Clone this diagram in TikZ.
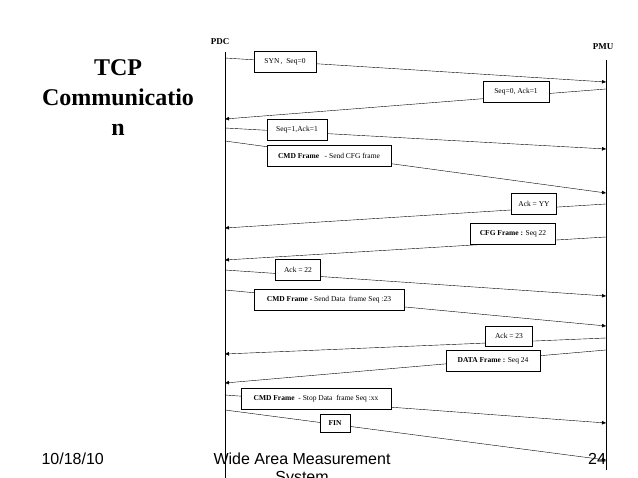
\documentclass[tikz,border=0pt]{standalone}
\usepackage{fontspec}
\setmainfont{Liberation Serif}
\newfontfamily\slidefont{Liberation Sans}
\usetikzlibrary{arrows.meta, positioning, calc}

\begin{document}
\begin{tikzpicture}[x=1pt, y=-1pt, >={Triangle[length=4pt, width=3.5pt]},
    msg/.style={draw, thin, fill=white, font=\fontsize{7.5}{8}\selectfont, inner sep=0pt},
    life/.style={thin},
    hdr/.style={font=\fontsize{9}{10}\selectfont\bfseries}]
    \useasboundingbox (0,0) rectangle (638,478);
    % lifelines
    \coordinate (pdcTop) at (225,52);
    \coordinate (pdcEnd) at (225,478);
    \coordinate (pmuTop) at (606,60);
    \coordinate (pmuEnd) at (606,470);
    \draw[life] (pdcTop) -- (pdcEnd);
    \draw[life] (pmuTop) -- (pmuEnd);
    \node[hdr] (pdc) at (220,42) {PDC};
    \node[hdr] (pmu) at (603,47) {PMU};
    % messages: from-y / to-y / direction / box x / box y / box width / box height / text
    \foreach \i/\ya/\yb/\dir/\bx/\by/\bw/\bh/\txt in {
        1/58/82/r/285/62/62/21/{SYN\,,\ \ Seq=0},
        2/89/119/l/516/92/66/21/{Seq=0, Ack=1},
        3/128/149/r/297/130/60/21/{Seq=1,Ack=1},
        4/141/193/r/329/156/124/21/{\textbf{CMD Frame}\ \ \ - Send CFG frame},
        5/204/228/l/534/204/45/21/{Ack = YY},
        6/237/260/l/513/234/85/21/{\textbf{CFG Frame :} Seq 22},
        7/270/296/r/298/270/45/21/{Ack = 22},
        8/290/326/r/329/300/150/21/{\textbf{CMD Frame -} Send Data\ \ frame Seq :23},
        9/338/354/l/509/336/47/20/{Ack = 23},
        10/350/383/l/493/361/94/21/{\textbf{DATA Frame :} Seq 24},
        11/395/423/r/316/399/150/21/{\textbf{CMD Frame}\ \ - Stop Data\ \ frame Seq :xx},
        12/410/460/r/335/423/30/18/{\textbf{FIN}}} {
        \if\dir r
            \coordinate (s\i) at (225,\ya);
            \coordinate (e\i) at (606,\yb);
        \else
            \coordinate (s\i) at (606,\ya);
            \coordinate (e\i) at (225,\yb);
        \fi
        \draw[thin, ->] (s\i) -- (e\i);
        \node[msg, minimum width=\bw pt, minimum height=\bh pt] (m\i) at (\bx,\by) {\txt};
    }
    % slide title and footer
    \node[font=\fontsize{24}{30}\selectfont\bfseries, align=center] (title) at (118,98) {TCP\\Communicatio\\n};
    \node[font=\slidefont\fontsize{16}{18}\selectfont, anchor=west] (date) at (38,459) {10/18/10};
    \node[font=\slidefont\fontsize{16}{18}\selectfont, align=center, anchor=north] (foot) at (302,449) {Wide Area Measurement\\System};
    \node[font=\slidefont\fontsize{16}{18}\selectfont] (page) at (597,459) {24};
\end{tikzpicture}
\end{document}
